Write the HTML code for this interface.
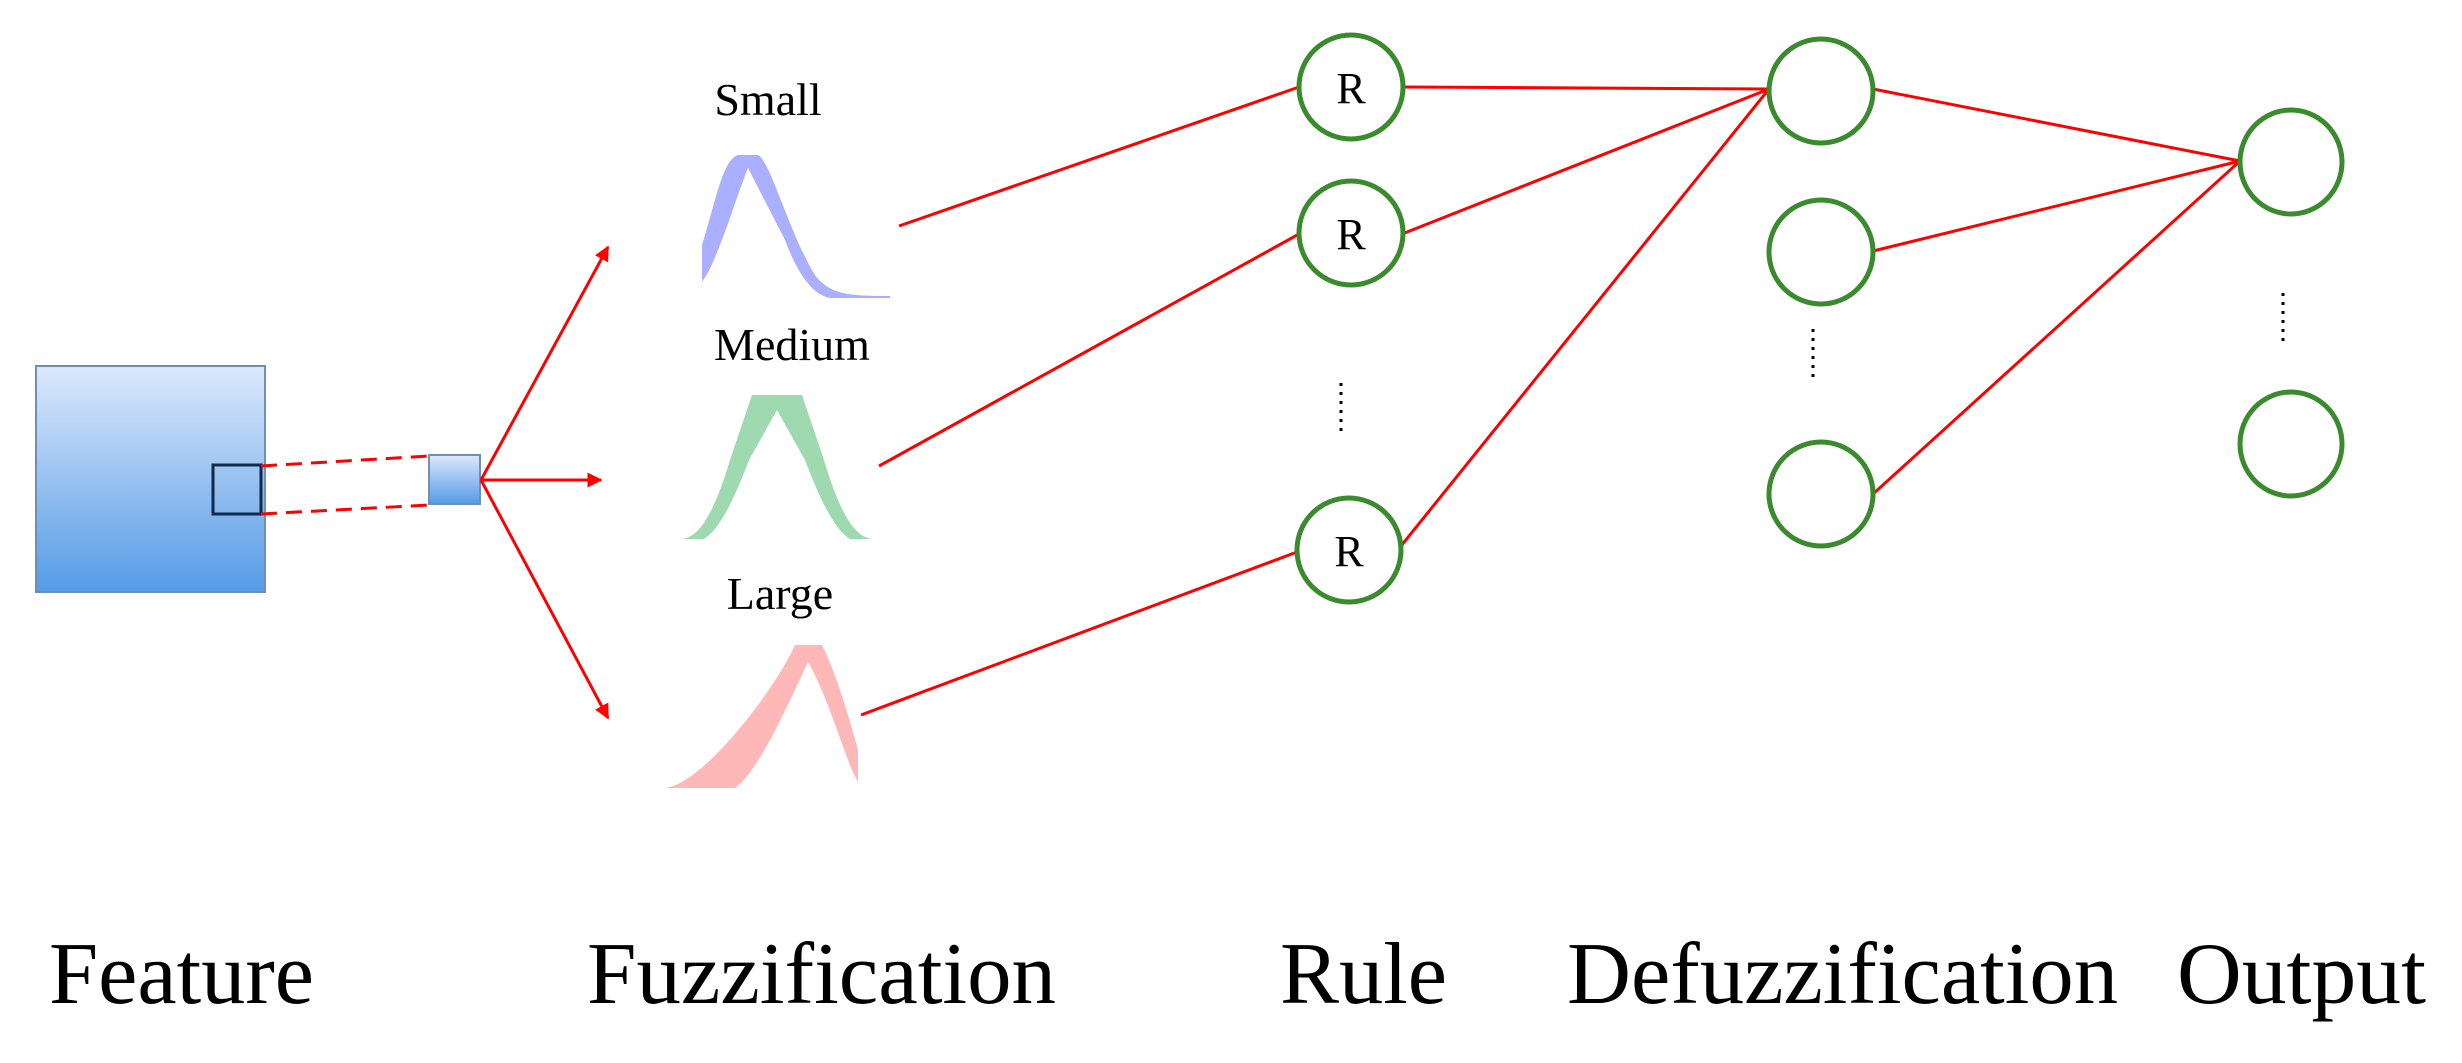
<!DOCTYPE html>
<html><head><meta charset="utf-8"><style>
html,body{margin:0;padding:0;background:#fff;}
svg{display:block;}
text{font-family:"Liberation Serif",serif;fill:#000;}
</style></head><body>
<svg width="2462" height="1063" viewBox="0 0 2462 1063" xmlns="http://www.w3.org/2000/svg">
<defs>
<linearGradient id="g" x1="0" y1="0" x2="0" y2="1">
<stop offset="0" stop-color="#dce9fb"/><stop offset="1" stop-color="#559be6"/>
</linearGradient>
<marker id="ar" viewBox="0 0 10 10" refX="9" refY="5" markerWidth="5" markerHeight="5" orient="auto">
<path d="M0,0 L10,5 L0,10 z" fill="#f00"/></marker>
</defs>
<!-- feature -->
<rect x="36" y="366" width="229" height="226" fill="url(#g)" stroke="#6f8fb5" stroke-width="2"/>
<rect x="213" y="465" width="48" height="49" fill="none" stroke="#0e2a4d" stroke-width="3"/>
<rect x="429" y="455" width="51" height="49" fill="url(#g)" stroke="#6f8fb5" stroke-width="2"/>
<line x1="261" y1="466" x2="429" y2="456" stroke="#f00" stroke-width="3" stroke-dasharray="16,9"/>
<line x1="261" y1="514" x2="429" y2="505" stroke="#f00" stroke-width="3" stroke-dasharray="16,9"/>
<line x1="481" y1="480" x2="608" y2="247" stroke="#f00" stroke-width="3" marker-end="url(#ar)"/>
<line x1="481" y1="480" x2="601" y2="480" stroke="#f00" stroke-width="3" marker-end="url(#ar)"/>
<line x1="481" y1="480" x2="608" y2="718" stroke="#f00" stroke-width="3" marker-end="url(#ar)"/>
<!-- curves -->
<path d="M702,282 L702,245 C715,205 722,160 738,155 L758,155 C770,160 790,235 815,275 C830,295 850,296 890,296 L890,298 L830,298 C815,295 800,280 785,240 L748,168 C735,200 718,260 702,282 Z" fill="#aab0ff"/>
<path d="M680,539 C700,539 715,510 730,460 L752,395 L802,395 L824,460 C839,510 854,539 874,539 L850,539 C835,530 820,500 805,460 L777,410 L749,460 C734,500 719,530 704,539 Z" fill="#9fd9b0"/>
<path d="M663,788 C700,788 775,690 795,645 L822,645 C835,670 850,720 858,750 L858,782 C845,760 830,700 808,662 C790,700 760,770 735,788 Z" fill="#ffb8b8"/>
<text x="768" y="115" font-size="46" text-anchor="middle">Small</text>
<text x="792" y="360" font-size="46" text-anchor="middle">Medium</text>
<text x="780" y="609" font-size="46" text-anchor="middle">Large</text>
<!-- lines -->
<g stroke="#f00" stroke-width="3" fill="none">
<line x1="899" y1="226" x2="1299" y2="87"/>
<line x1="879" y1="466" x2="1299" y2="234"/>
<line x1="861" y1="715" x2="1297" y2="552"/>
<line x1="1404" y1="87" x2="1769" y2="89"/>
<line x1="1402" y1="234" x2="1769" y2="89"/>
<line x1="1401" y1="546" x2="1769" y2="89"/>
<line x1="1873" y1="89" x2="2240" y2="161"/>
<line x1="1873" y1="251" x2="2240" y2="161"/>
<line x1="1873" y1="494" x2="2240" y2="161"/>
</g>
<!-- nodes -->
<g fill="#fff" stroke="#3a8a2e" stroke-width="5">
<ellipse cx="1351" cy="87" rx="52" ry="52"/>
<ellipse cx="1351" cy="233" rx="52" ry="52"/>
<ellipse cx="1349" cy="550" rx="52" ry="52"/>
<ellipse cx="1821" cy="91" rx="52" ry="52"/>
<ellipse cx="1821" cy="252" rx="52" ry="52"/>
<ellipse cx="1821" cy="494" rx="52" ry="52"/>
<ellipse cx="2291" cy="162" rx="51" ry="52"/>
<ellipse cx="2291" cy="444" rx="51" ry="52"/>
</g>
<text x="1351" y="103" font-size="44" text-anchor="middle">R</text>
<text x="1351" y="249" font-size="44" text-anchor="middle">R</text>
<text x="1349" y="566" font-size="44" text-anchor="middle">R</text>
<g stroke="#000" stroke-width="3" stroke-dasharray="3,6">
<line x1="1341" y1="383" x2="1341" y2="434"/>
<line x1="1813" y1="329" x2="1813" y2="378"/>
<line x1="2283" y1="293" x2="2283" y2="342"/>
</g>
<!-- bottom labels -->
<text x="49" y="1003" font-size="88" textLength="265" lengthAdjust="spacingAndGlyphs">Feature</text>
<text x="587" y="1003" font-size="88" textLength="469" lengthAdjust="spacingAndGlyphs">Fuzzification</text>
<text x="1280" y="1003" font-size="88" textLength="167" lengthAdjust="spacingAndGlyphs">Rule</text>
<text x="1567" y="1003" font-size="88" textLength="551" lengthAdjust="spacingAndGlyphs">Defuzzification</text>
<text x="2177" y="1003" font-size="88" textLength="249" lengthAdjust="spacingAndGlyphs">Output</text>
</svg>
</body></html>
